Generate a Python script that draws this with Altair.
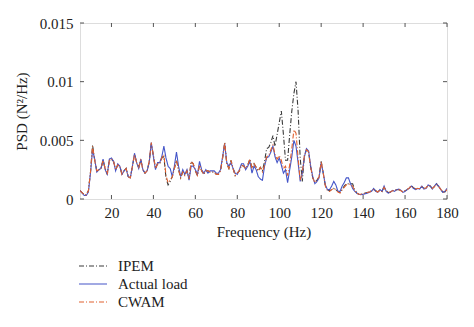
import altair as alt
import pandas as pd

freq = list(range(5, 181))

actual = [
    0.74, 0.5, 0.3, 0.3, 0.6, 2.2, 4.2, 3.4, 2.3, 2.5,
    2.6, 3.4, 2.5, 2.1, 3.4, 3.5, 3.2, 2.4, 3.0, 2.8,
    2.1, 2.4, 2.6, 1.9, 1.8, 2.8, 3.9, 3.1, 2.6, 3.4,
    2.5, 2.2, 2.4, 3.1, 4.8, 3.6, 2.5, 3.1, 3.1, 3.6,
    4.5, 3.5, 2.8, 2.6, 1.9, 2.8, 4.0, 2.8, 1.9, 2.5,
    2.1, 2.5, 1.6, 2.8, 2.8, 2.5, 2.1, 3.2, 2.5, 2.2,
    2.5, 2.2, 2.4, 2.4, 2.4, 2.2, 2.2, 2.5, 3.6, 4.7,
    3.1, 2.8, 3.1, 2.6, 2.2, 2.1, 2.5, 3.0, 3.0, 2.5,
    2.8, 3.2, 2.2, 2.8, 2.5, 1.9, 1.7, 1.6, 2.8, 3.5,
    3.6, 4.0, 4.5, 3.6, 3.1, 3.5, 2.9, 2.2, 2.5, 1.4,
    2.5, 3.6, 5.0, 4.5, 3.1, 1.5, 2.2, 3.6, 4.3, 4.1,
    2.8, 1.9, 1.3, 1.5, 1.8, 3.1, 2.2, 1.2, 0.8, 0.8,
    1.1, 1.5, 1.2, 0.65, 0.65, 1.1, 1.4, 1.8, 1.8, 1.3,
    0.9, 0.65, 0.5, 0.4, 0.37, 0.4, 0.45, 0.5, 0.57, 0.65,
    0.9, 0.65, 0.57, 0.8, 0.65, 1.1, 0.65, 0.5, 0.57, 0.74,
    0.65, 0.8, 0.85, 0.74, 0.57, 0.65, 0.8, 0.9, 1.1, 0.9,
    0.8, 0.9, 0.85, 1.1, 0.85, 0.9, 1.2, 1.1, 0.85, 1.1,
    1.3, 1.1, 0.8, 0.57, 0.65, 0.9,
]

cwam = [
    0.7, 0.55, 0.35, 0.35, 0.7, 2.3, 4.5, 3.3, 2.4, 2.5,
    2.6, 3.3, 2.6, 2.1, 3.3, 3.4, 3.2, 2.5, 2.9, 2.8,
    2.1, 2.4, 2.6, 1.9, 1.8, 2.8, 3.8, 3.1, 2.7, 3.3,
    2.5, 2.2, 2.4, 3.2, 4.8, 3.7, 2.6, 3.0, 3.0, 3.5,
    3.8, 2.0, 1.4, 1.6, 1.9, 2.6, 3.3, 2.5, 1.8, 2.3,
    2.0, 2.4, 1.7, 3.2, 3.0, 2.4, 2.0, 2.9, 2.4, 2.1,
    2.4, 2.4, 2.3, 2.3, 2.3, 2.1, 2.1, 2.4, 3.5, 4.8,
    3.0, 2.6, 3.3, 2.6, 2.0, 2.2, 2.4, 2.9, 2.8, 2.6,
    2.9, 3.4, 2.6, 3.0, 2.7, 2.4, 2.7, 2.3, 2.9, 3.6,
    3.7, 4.2, 4.6, 3.8, 3.4, 3.7, 3.3, 2.6, 2.8, 2.0,
    2.9, 4.3, 5.9, 5.6, 3.5, 1.6, 2.3, 3.7, 4.2, 4.0,
    2.7, 1.8, 1.4, 1.6, 1.9, 3.2, 2.2, 1.1, 0.7, 0.65,
    0.8, 0.9, 0.8, 0.6, 0.5, 0.8, 1.0, 1.2, 1.3, 1.2,
    1.1, 0.7, 0.5, 0.4, 0.4, 0.45, 0.5, 0.55, 0.6, 0.7,
    0.8, 0.7, 0.6, 0.75, 0.65, 1.0, 0.7, 0.55, 0.6, 0.7,
    0.7, 0.8, 0.8, 0.7, 0.6, 0.7, 0.8, 0.95, 1.1, 0.95,
    0.85, 0.9, 0.9, 1.05, 0.9, 0.95, 1.15, 1.1, 0.9, 1.05,
    1.25, 1.05, 0.85, 0.6, 0.6, 0.8,
]

ipem = [
    0.7, 0.55, 0.35, 0.35, 0.7, 2.3, 4.6, 3.3, 2.4, 2.5,
    2.6, 3.3, 2.6, 2.1, 3.3, 3.4, 3.2, 2.5, 2.9, 2.8,
    2.1, 2.4, 2.6, 1.9, 1.8, 2.8, 3.8, 3.1, 2.7, 3.3,
    2.5, 2.2, 2.4, 3.2, 4.7, 3.7, 2.6, 3.0, 3.0, 3.5,
    3.6, 1.8, 1.2, 1.5, 1.9, 2.6, 3.3, 2.5, 1.8, 2.3,
    2.0, 2.4, 1.7, 3.2, 3.0, 2.4, 2.0, 2.9, 2.4, 2.1,
    2.4, 2.4, 2.3, 2.3, 2.3, 2.1, 2.1, 2.4, 3.5, 4.8,
    3.0, 2.6, 3.3, 2.6, 2.0, 2.2, 2.4, 2.9, 2.8, 2.6,
    2.9, 3.4, 2.6, 3.0, 2.7, 2.4, 2.7, 2.4, 3.2, 4.3,
    4.4, 4.8, 5.4, 4.5, 5.5, 6.5, 7.5, 5.5, 3.3, 3.3,
    5.5, 7.5, 9.0, 10.0, 7.5, 3.5, 1.5, 3.7, 4.2, 4.0,
    2.7, 1.8, 1.4, 1.6, 1.9, 3.2, 2.2, 1.1, 0.8, 0.7,
    0.8, 0.9, 0.8, 0.65, 0.55, 0.8, 1.1, 1.3, 1.3, 1.3,
    1.3, 0.8, 0.5, 0.4, 0.4, 0.45, 0.5, 0.55, 0.6, 0.7,
    0.85, 0.7, 0.6, 0.75, 0.65, 1.0, 0.7, 0.55, 0.6, 0.7,
    0.7, 0.8, 0.8, 0.7, 0.6, 0.7, 0.8, 0.95, 1.15, 0.95,
    0.85, 0.9, 0.9, 1.05, 0.9, 0.95, 1.15, 1.1, 0.9, 1.05,
    1.3, 1.05, 0.85, 0.6, 0.6, 0.85,
]

series_names = ["IPEM", "Actual load", "CWAM"]
series_colors = ["#3a3a3a", "#4455c8", "#e0602e"]
series_dash = [[5, 2, 1, 2], [1, 0], [5, 2, 1, 2]]

x_ticks = [20, 40, 60, 80, 100, 120, 140, 160, 180]
y_ticks = [0, 0.005, 0.01, 0.015]

rows = []
for name, vals in zip(series_names, [ipem, actual, cwam]):
    for f, v in zip(freq, vals):
        rows.append({"f": f, "v": v * 1e-3, "s": name})
df = pd.DataFrame(rows)

W, H = 367, 176
FONT = "Liberation Serif"
AX = "#555555"
TXT = "#222222"

xscale = alt.Scale(domain=[5, 180], nice=False, zero=False)
yscale = alt.Scale(domain=[0, 0.015], nice=False)

x_axis = alt.Axis(values=x_ticks, ticks=False, domain=False, grid=False,
                  labelFont=FONT, labelFontSize=15, labelColor=TXT,
                  labelPadding=6, labelOverlap=False, labelFlush=False,
                  titleFont=FONT, titleFontSize=15,
                  titleFontWeight="normal", titleColor=TXT, titlePadding=4)
y_axis = alt.Axis(values=y_ticks, ticks=False, domain=False, grid=False,
                  labelFont=FONT, labelFontSize=15, labelColor=TXT,
                  labelPadding=7, labelOverlap=False, labelFlush=False,
                  labelExpr="datum.value == 0 ? '0' : format(datum.value, '~g')",
                  titleFont=FONT, titleFontSize=15,
                  titleFontWeight="normal", titleColor=TXT, titlePadding=10)
X_TITLE = "Frequency (Hz)"
Y_TITLE = "PSD (N²/Hz)"

legend_kw = dict(title=None, orient="none", legendX=-2, legendY=235,
                 symbolType="stroke", symbolSize=784, symbolStrokeWidth=1.1,
                 labelFont=FONT, labelFontSize=15, labelColor=TXT, labelOffset=10,
                 clipHeight=16, rowPadding=2, padding=0)

lines = alt.Chart(df).mark_line(strokeWidth=1.1, clip=True).encode(
    x=alt.X("f:Q", scale=xscale, title=X_TITLE, axis=x_axis),
    y=alt.Y("v:Q", scale=yscale, title=Y_TITLE, axis=y_axis),
    color=alt.Color("s:N", sort=series_names,
                    scale=alt.Scale(domain=series_names, range=series_colors),
                    legend=alt.Legend(**legend_kw)),
    strokeDash=alt.StrokeDash("s:N", sort=series_names,
                              scale=alt.Scale(domain=series_names, range=series_dash),
                              legend=alt.Legend(**legend_kw)),
    order=alt.Order("f:Q"),
)

xt = pd.DataFrame({"t": x_ticks})
yt = pd.DataFrame({"t": y_ticks})

xtick_bottom = alt.Chart(xt).mark_rule(color=AX, strokeWidth=1).encode(
    x=alt.X("t:Q", scale=xscale, title=X_TITLE, axis=x_axis), y=alt.value(H - 4), y2=alt.value(H))
xtick_top = alt.Chart(xt).mark_rule(color=AX, strokeWidth=1).encode(
    x=alt.X("t:Q", scale=xscale, title=X_TITLE, axis=x_axis), y=alt.value(0), y2=alt.value(4))
ytick_left = alt.Chart(yt).mark_rule(color=AX, strokeWidth=1).encode(
    y=alt.Y("t:Q", scale=yscale, title=Y_TITLE, axis=y_axis), x=alt.value(0), x2=alt.value(4))
ytick_right = alt.Chart(yt).mark_rule(color=AX, strokeWidth=1).encode(
    y=alt.Y("t:Q", scale=yscale, title=Y_TITLE, axis=y_axis), x=alt.value(W - 4), x2=alt.value(W))

chart = alt.layer(lines, xtick_bottom, xtick_top, ytick_left, ytick_right).properties(
    width=W, height=H,
    autosize=alt.AutoSizeParams(type="none"),
    padding={"left": 80, "top": 23, "right": 474 - 80 - W, "bottom": 327 - 23 - H},
    background="white",
).configure_view(stroke=AX, strokeWidth=1).configure_axis(
    labelFont=FONT, titleFont=FONT
).configure_legend(labelFont=FONT).configure(font=FONT)

chart.save("out.html", embed_options={"renderer": "svg", "actions": False})
